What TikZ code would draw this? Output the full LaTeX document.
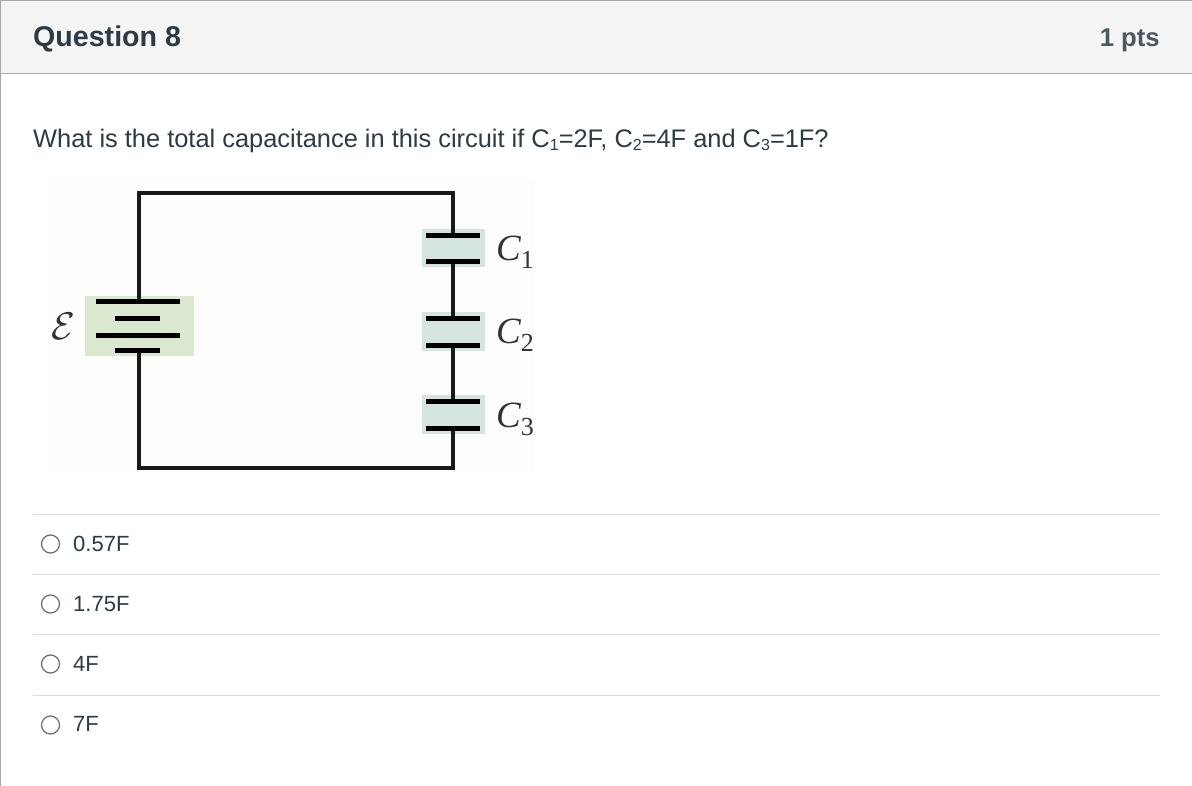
\documentclass[tikz,border=0pt]{standalone}
\usepackage{graphicx}
\usepackage{fontspec}
\setmainfont{Liberation Sans}
\newfontfamily\serifc{Liberation Serif}
\definecolor{ink}{HTML}{2D3B45}
\definecolor{head}{HTML}{F5F5F5}
\definecolor{edge}{HTML}{A8A8A8}
\definecolor{sep}{HTML}{DCDCDC}
\definecolor{batt}{HTML}{DAE8CF}
\definecolor{capc}{HTML}{D3E5DE}
\definecolor{photo}{HTML}{FDFDFB}
\definecolor{symb}{HTML}{333333}
\tikzset{
  x=1pt,y=-1pt,
  txt/.style={inner sep=0pt,text=ink,font=\fontsize{25.4}{28}\selectfont,anchor=base west},
  opt/.style={inner sep=0pt,text=ink,font=\fontsize{22}{26}\selectfont,anchor=base west},
  title/.style={inner sep=0pt,text=ink,font=\bfseries\fontsize{28.6}{34}\selectfont,anchor=base west},
  pts/.style={inner sep=0pt,text=ink!85!white,font=\bfseries\fontsize{25.7}{32}\selectfont,anchor=base east},
  wire/.style={draw=black!90,line width=4pt,line join=miter},
  plate/.style={draw=black,line width=5pt},
  radio/.style={circle,draw=black!55,line width=1.3pt,minimum size=18pt,inner sep=0pt},
  sepline/.style={draw=sep,line width=1pt},
  clabel/.style={inner sep=0pt,text=symb,font=\serifc\itshape\fontsize{37}{40}\selectfont,anchor=base west},
}
\newcommand{\qsub}[1]{\raisebox{-3pt}{\fontsize{16}{16}\selectfont #1}}
\newcommand{\csub}[1]{\raisebox{-8pt}{\fontsize{26}{26}\selectfont\upshape #1}}
\begin{document}
\begin{tikzpicture}
\useasboundingbox (0,0) rectangle (1192,786);
\fill[white] (0,0) rectangle (1192,786);
% header
\fill[head] (0,0) rectangle (1192,73);
\draw[edge,line width=1pt] (0,0.5) -- (1192,0.5);
\draw[edge,line width=1pt] (0,73.5) -- (1192,73.5);
\draw[edge,line width=1pt] (0.5,0) -- (0.5,786);
\node[title] (qtitle) at (33,47) {Question 8};
\node[pts] (qpts) at (1160,47) {1 pts};
\node[txt] (qtext) at (33,148) {What is the total capacitance in this circuit if C\qsub{1}=2F, C\qsub{2}=4F and C\qsub{3}=1F?};
% photo background
\fill[photo] (48,178) rectangle (535,472);
\fill[batt] (85,296) rectangle (194,356);
\fill[capc] (422,229) rectangle (485,267);
\fill[capc] (422,312) rectangle (485,351);
\fill[capc] (422,395) rectangle (485,434);
% named points
\coordinate (bt) at (139,302);
\coordinate (bb) at (139,350);
\coordinate (tl) at (139,193);
\coordinate (tr) at (453,193);
\coordinate (bl) at (139,468);
\coordinate (br) at (453,468);
\coordinate (c1t) at (453,235);
\coordinate (c1b) at (453,261.5);
\coordinate (c2t) at (453,318);
\coordinate (c2b) at (453,345);
\coordinate (c3t) at (453,401);
\coordinate (c3b) at (453,428);
% wires
\draw[wire] (bt) -- (tl) -- (tr) -- (c1t);
\draw[wire] (c1b) -- (c2t);
\draw[wire] (c2b) -- (c3t);
\draw[wire] (c3b) -- (br) -- (bl) -- (bb);
% battery plates
\draw[plate] (96,301.5) -- (180,301.5);
\draw[plate] (115,318.5) -- (160,318.5);
\draw[plate] (96,335.5) -- (180,335.5);
\draw[plate] (115,350.5) -- (160,350.5);
% capacitor plates
\foreach \y in {235.5,261.5,318.5,345.5,401.5,428.5} \draw[plate] (426,\y) -- (480,\y);
% labels
\node[inner sep=0pt,text=symb,anchor=base] (emf) at (63.5,340) {\scalebox{1.55}{\fontsize{34}{38}\selectfont$\mathcal{E}$}};
\node[clabel] (c1) at (496,261) {C\csub{1}};
\node[clabel] (c2) at (496,344) {C\csub{2}};
\node[clabel] (c3) at (496,428) {C\csub{3}};
% options
\draw[sepline] (33,514.5) -- (1160,514.5);
\draw[sepline] (33,574.5) -- (1160,574.5);
\draw[sepline] (33,634.5) -- (1160,634.5);
\draw[sepline] (33,695.5) -- (1160,695.5);
\node[radio] (r1) at (50.5,544) {};
\node[radio] (r2) at (50.5,604) {};
\node[radio] (r3) at (50.5,664) {};
\node[radio] (r4) at (50.5,725) {};
\node[opt] (o1) at (73,551) {0.57F};
\node[opt] (o2) at (73,611) {1.75F};
\node[opt] (o3) at (73,671) {4F};
\node[opt] (o4) at (73,731) {7F};
\end{tikzpicture}
\end{document}
